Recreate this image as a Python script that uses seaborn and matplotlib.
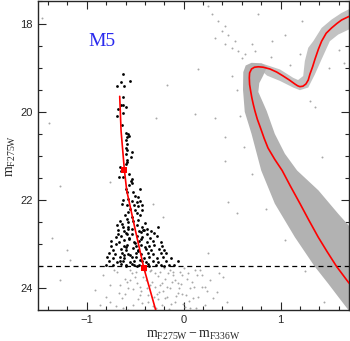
import seaborn as sns
import matplotlib.pyplot as plt
from matplotlib.ticker import MultipleLocator

# Colour-magnitude diagram of M5 (F275W vs F275W-F336W)

# blue stragglers (black points)
bss_color = [
    -0.629, -0.650, -0.551, -0.685, -0.619, -0.629, -0.646, -0.629, -0.680, -0.595, -0.626, -0.691, -0.633,
    -0.598, -0.571, -0.561, -0.588, -0.595, -0.581, -0.595, -0.588, -0.536, -0.595, -0.546, -0.588,
    -0.581, -0.595, -0.657, -0.650, -0.664, -0.623, -0.561, -0.536, -0.546, -0.533, -0.561, -0.595, -0.451,
    -0.588, -0.519, -0.502, -0.474, -0.623, -0.571, -0.536, -0.485, -0.451, -0.639, -0.588, -0.509, -0.468,
    -0.433, -0.554, -0.502, -0.605, -0.571, -0.485, -0.451, -0.433, -0.536, -0.588, -0.657, -0.691, -0.639,
    -0.571, -0.519, -0.468, -0.399, -0.623, -0.571, -0.433, -0.381, -0.262, -0.485, -0.536, -0.674, -0.416,
    -0.612, -0.578, -0.461, -0.405, -0.339,
    -0.681, -0.596, -0.529, -0.441, -0.375, -0.307,
    -0.701, -0.646, -0.561, -0.478, -0.425, -0.352, -0.271,
    -0.751, -0.667, -0.612, -0.511, -0.459, -0.376, -0.320, -0.236,
    -0.753, -0.699, -0.615, -0.580, -0.495, -0.441, -0.358, -0.303, -0.221,
    -0.733, -0.650, -0.595, -0.522, -0.475, -0.391, -0.337, -0.255, -0.199,
    -0.770, -0.708, -0.632, -0.579, -0.495, -0.441, -0.364, -0.320, -0.237, -0.183,
    -0.786, -0.732, -0.660, -0.613, -0.536, -0.492, -0.409, -0.354, -0.272, -0.217, -0.134,
    -0.767, -0.684, -0.629, -0.557, -0.509, -0.433, -0.389, -0.316, -0.262, -0.179,
    -0.804, -0.732, -0.650, -0.595, -0.512, -0.458, -0.372, -0.289, -0.234, -0.151, -0.097,
    -0.598, -0.478, -0.354, -0.203, -0.062,
    -0.56, -0.50, -0.60, -0.47, -0.55, -0.45, -0.53, -0.62, -0.40, -0.66, -0.58, -0.44,
]
bss_mag = [
    19.15, 19.32, 19.31, 19.41, 19.41, 19.66, 19.85, 19.85, 19.93, 19.90, 20.02, 20.10, 20.30,
    20.49, 20.50, 20.54, 20.58, 20.65, 20.73, 20.81, 20.86, 20.92, 20.95, 21.02, 21.09,
    21.14, 21.18, 21.26, 21.35, 21.47, 21.47, 21.41, 21.52, 21.57, 21.62, 21.65, 21.75, 21.75,
    21.81, 21.82, 21.90, 21.93, 21.99, 21.97, 22.01, 22.05, 22.01, 22.10, 22.12, 22.12, 22.14,
    22.12, 22.20, 22.22, 22.33, 22.27, 22.30, 22.33, 22.23, 22.39, 22.42, 22.48, 22.57, 22.54,
    22.50, 22.48, 22.46, 22.52, 22.61, 22.61, 22.61, 22.65, 22.60, 22.57, 22.65, 22.67, 22.67,
    22.69, 22.66, 22.70, 22.67, 22.71,
    22.76, 22.74, 22.77, 22.73, 22.76, 22.75,
    22.84, 22.82, 22.85, 22.81, 22.84, 22.86, 22.82,
    22.92, 22.95, 22.91, 22.94, 22.92, 22.96, 22.93, 22.95,
    23.03, 23.00, 23.04, 23.01, 23.03, 23.02, 23.05, 23.01, 23.04,
    23.12, 23.10, 23.13, 23.09, 23.12, 23.11, 23.13, 23.10, 23.12,
    23.20, 23.22, 23.19, 23.23, 23.20, 23.22, 23.19, 23.23, 23.21, 23.20,
    23.29, 23.31, 23.28, 23.32, 23.30, 23.29, 23.31, 23.28, 23.31, 23.30, 23.32,
    23.38, 23.40, 23.37, 23.41, 23.39, 23.38, 23.40, 23.37, 23.40, 23.39,
    23.46, 23.47, 23.45, 23.48, 23.46, 23.47, 23.45, 23.48, 23.46, 23.47, 23.48,
    23.49, 23.50, 23.49, 23.50, 23.39,
    22.88, 22.98, 23.07, 23.16, 23.25, 23.35, 23.44, 23.25, 23.06, 23.37, 22.78, 22.88,
]

# sparse grey stars (field / faint MS below the cut)
field_color = [
    0.254, 0.289, 0.357, 0.426, 0.392, 0.460, 0.529, 0.495, 0.563, 0.632, 0.598, 0.701, 0.735, 0.426,
    0.323, 0.151, 0.117, 0.323, 0.426, 0.426, 0.769, 0.907, 1.044, 1.216, 1.354, 1.423,
    -1.464, -0.175, -0.289, -1.389, -1.275, -0.759, -0.313, -1.361, -1.206, -0.210, 0.460, 0.546,
    0.254, 0.117, 0.220, -1.275, -1.170,
    -0.914, -0.829, -0.760, -0.691, -0.639, -0.605, -0.571, -0.536, -0.519, -0.485, -0.451, -0.416,
    -0.382, -0.365, -0.330, -0.296, -0.279, -0.244, -0.227, -0.193, -0.176, -0.141, -0.107, -0.090,
    -0.055, -0.021, 0.013, 0.031, 0.065, 0.099, 0.134, 0.185, 0.220, 0.271, 0.340, 0.409, 0.443,
    -0.554, -0.347, -0.141, -0.622, -0.760, -0.863, 0.168, -0.038,
    -0.50, -0.44, -0.40, -0.31, -0.26, -0.21, -0.12, -0.08, -0.02, 0.05, -0.58, -0.47, -0.35,
    -0.16, 0.09, -0.67, -0.29, -0.20, -0.05, 0.00,
    -0.72, -0.66, -0.61, -0.55, -0.52, -0.49, -0.45, -0.43, -0.39, -0.37, -0.34, -0.32, -0.30,
    -0.27, -0.24, -0.22, -0.19, -0.17, -0.13, -0.11, -0.09, -0.06, -0.03, 0.02, 0.04, 0.07,
    0.11, 0.15, 0.19, 0.24, 0.30, 0.36, -0.80, -0.70, -0.57, -0.41, -0.25, -0.15, -0.01, 0.13,
    0.55, 0.58, 0.62, 0.70, 0.85, 1.05, 1.25, 1.45, 0.50, 0.90, 1.10, 1.20, 1.30, 1.50, 1.60, 1.65,
]
field_mag = [
    17.61, 17.79, 17.95, 18.06, 18.17, 18.25, 18.40, 18.55, 18.62, 18.70, 18.77, 18.47, 18.62, 18.47,
    18.32, 19.04, 20.05, 20.13, 20.58, 21.11, 17.79, 18.40, 18.25, 17.95, 19.90, 21.03,
    17.87, 19.40, 20.13, 20.26, 21.67, 21.60, 22.08, 22.87, 23.14, 22.39, 22.05, 22.30,
    23.21, 23.59, 23.97, 23.81, 23.36,
    24.04, 23.70, 23.93, 23.63, 24.23, 23.78, 24.00, 23.66, 24.38, 23.89, 24.15, 23.74,
    24.00, 24.30, 23.85, 23.66, 24.12, 23.93, 24.38, 23.78, 24.19, 24.00, 23.70, 24.30,
    23.89, 24.12, 24.42, 23.78, 24.00, 24.23, 23.70, 23.97, 24.38, 23.81, 24.08, 23.74, 24.30,
    23.59, 23.61, 23.59, 24.45, 24.30, 24.38, 23.59, 23.63,
    23.75, 24.05, 23.60, 24.20, 23.72, 24.06, 23.85, 24.18, 23.70, 24.28, 23.85, 24.25, 23.92,
    23.65, 23.86, 24.10, 24.45, 23.55, 24.00, 23.55,
    23.58, 23.92, 24.12, 23.80, 24.02, 23.62, 23.96, 24.34, 23.82, 24.15, 23.58, 24.40, 23.98,
    24.25, 23.64, 23.88, 24.22, 23.96, 24.35, 23.62, 23.80, 24.10, 23.90, 24.14, 23.66, 24.45,
    23.98, 24.20, 23.70, 24.05, 24.22, 23.65, 24.20, 24.40, 24.48, 24.48, 24.08, 24.46, 24.36, 24.44,
    19.50, 20.10, 20.80, 21.40, 22.20, 22.90, 23.60, 24.30, 19.20, 18.75, 18.95, 18.70, 19.75, 19.00, 18.60, 18.90,
]

# outline of the dense main sequence cloud
ms_edge_color = [1.72, 1.594, 1.49, 1.35, 1.147, 0.94, 0.80, 0.70, 0.63, 0.612, 0.615, 0.64, 0.70,
                 0.80, 0.86, 0.82, 0.78, 0.77, 0.856, 0.94, 1.044, 1.17, 1.39, 1.594, 1.72]
ms_edge_mag = [24.55, 24.19, 23.89, 23.50, 22.84, 22.08, 21.33, 20.50, 20.00, 19.50, 19.10, 18.95, 18.89,
               18.90, 18.98, 19.18, 19.35, 19.55, 19.98, 20.50, 20.95, 21.33, 21.78, 22.31, 22.62]

# outline of the subgiant + red giant branch cloud
rgb_edge_color = [0.80, 0.993, 1.13, 1.18, 1.233, 1.25, 1.285, 1.337, 1.423, 1.526, 1.629, 1.72,
                  1.72, 1.594, 1.508, 1.423, 1.354, 1.285, 1.199, 1.13, 0.993, 0.86, 0.82]
rgb_edge_mag = [18.90, 19.04, 19.23, 19.28, 19.19, 18.85, 18.55, 18.40, 18.10, 17.91, 17.76, 17.66,
                18.12, 18.25, 18.40, 18.81, 19.15, 19.45, 19.51, 19.45, 19.30, 19.18, 19.10]

# fiducial line of the main sequence / SGB / RGB
iso_color = [1.75, 1.695, 1.576, 1.48, 1.388, 1.29, 1.20, 1.10, 1.016, 0.94, 0.87, 0.83, 0.79, 0.76,
             0.735, 0.718, 0.703, 0.691, 0.68, 0.677, 0.68, 0.70, 0.73, 0.77, 0.82, 0.89, 0.96, 1.027,
             1.09, 1.147, 1.175, 1.199, 1.23, 1.261, 1.285, 1.302, 1.33, 1.354, 1.39, 1.423, 1.47,
             1.526, 1.58, 1.629, 1.714]
iso_mag = [24.0, 23.85, 23.50, 23.17, 22.84, 22.45, 22.08, 21.68, 21.33, 21.08, 20.82, 20.60, 20.35,
           20.17, 19.98, 19.83, 19.68, 19.53, 19.38, 19.23, 19.12, 19.03, 18.99, 18.98, 18.99, 19.03,
           19.10, 19.19, 19.28, 19.37, 19.41, 19.43, 19.42, 19.37, 19.28, 19.15, 18.98, 18.81, 18.58,
           18.40, 18.22, 18.10, 18.00, 17.92, 17.83]

# BSS fiducial line and the two marked points
bss_line_color = [-0.660, -0.646, -0.612, -0.588, -0.50, -0.412, -0.289]
bss_line_mag = [19.65, 20.43, 21.31, 21.78, 22.67, 23.53, 24.49]
square_color = [-0.612, -0.412]
square_mag = [21.31, 23.53]

mag_cut = 23.5

sns.set_style('ticks')
plt.rcParams['font.family'] = ['Liberation Sans', 'DejaVu Sans']
plt.rcParams['mathtext.fontset'] = 'custom'
plt.rcParams['mathtext.rm'] = 'Liberation Serif'
plt.rcParams['mathtext.it'] = 'Liberation Serif:italic'

fig = plt.figure(figsize=(3.5, 3.41), dpi=100)
ax = fig.add_axes([0.108, 0.091, 0.889, 0.906])

ax.fill(rgb_edge_color, rgb_edge_mag, fc='#c2c2c2', ec='none', zorder=1)
ax.fill(ms_edge_color, ms_edge_mag, fc='#b2b2b2', ec='none', zorder=1)
sns.scatterplot(x=field_color, y=field_mag, color='#a8a8a8', s=2, linewidth=0, ax=ax, zorder=1)
sns.scatterplot(x=bss_color, y=bss_mag, color='black', s=4, linewidth=0, ax=ax, zorder=3)
ax.axhline(mag_cut, color='black', ls=(0, (4, 3)), lw=0.9, zorder=2)
sns.lineplot(x=iso_color, y=iso_mag, sort=False, estimator=None, color='red', lw=1.2, ax=ax, zorder=4)
sns.lineplot(x=bss_line_color, y=bss_line_mag, sort=False, estimator=None, color='red', lw=1.2, ax=ax, zorder=4)
sns.scatterplot(x=square_color, y=square_mag, marker='s', s=22, color='red', linewidth=0, ax=ax, zorder=5)

ax.text(-0.845, 18.41, 'M5', color='#2a2aee', fontsize=14, family='Liberation Serif',
        ha='center', va='center')

ax.set_xlim(-1.505, 1.705)
ax.set_ylim(24.49, 17.49)
ax.set_xticks([-1, 0, 1])
ax.set_yticks([18, 20, 22, 24])
ax.xaxis.set_minor_locator(MultipleLocator(0.2))
ax.yaxis.set_minor_locator(MultipleLocator(0.5))
ax.tick_params(which='both', direction='in', top=True, right=True, width=0.8, labelsize=8)
ax.tick_params(which='major', length=6)
ax.tick_params(which='minor', length=3)
for sp in ax.spines.values():
    sp.set_linewidth(1.0)

ax.set_xlabel(r'$\mathrm{m_{F275W}-m_{F336W}}$', fontsize=10, labelpad=2)
ax.set_ylabel(r'$\mathrm{m_{F275W}}$', fontsize=10, labelpad=2)

fig.savefig('out.png', dpi=100)
